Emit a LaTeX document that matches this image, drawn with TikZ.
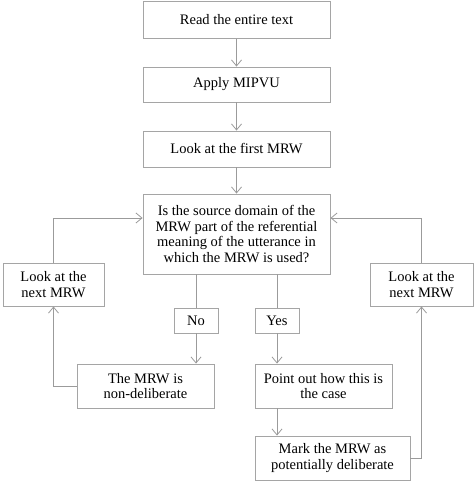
\documentclass[tikz,border=0pt]{standalone}
\usepackage{fontspec}
\setmainfont{Liberation Serif}
\usetikzlibrary{arrows.meta}
\definecolor{boxgray}{RGB}{165,165,165}
\definecolor{linegray}{RGB}{155,155,155}
\begin{document}
\begin{tikzpicture}[x=1pt,y=-1pt,
  box/.style={draw=boxgray,line width=0.9pt,rectangle,inner sep=0pt,align=center,
    font=\fontsize{14.5}{15.6}\selectfont},
  conn/.style={draw=linegray,line width=0.9pt},
  arr/.style={conn,-{Straight Barb[length=6pt,width=10pt,line width=0.8pt]}}]
\useasboundingbox (0,0) rectangle (474,481);
\node[box,minimum width=187pt,minimum height=37pt] (read) at (236.5,20) {Read the entire text};
\node[box,minimum width=187pt,minimum height=35pt] (mip) at (236.5,84.5) {Apply MIPVU};
\node[box,minimum width=187pt,minimum height=36pt] (first) at (236.5,149) {Look at the first MRW};
\node[box,minimum width=187pt,minimum height=80pt] (q) at (236.5,234)
  {Is the source domain of the\\MRW part of the referential\\meaning of the utterance in\\which the MRW is used?};
\node[box,minimum width=101pt,minimum height=43pt] (lnext) at (53.5,284.5) {Look at the\\next MRW};
\node[box,minimum width=103pt,minimum height=43pt] (rnext) at (421.5,284.5) {Look at the\\next MRW};
\node[box,minimum width=44pt,minimum height=25pt] (no) at (196,320.5) {No};
\node[box,minimum width=44pt,minimum height=25pt] (yes) at (277,320.5) {Yes};
\node[box,minimum width=137pt,minimum height=44pt] (nd) at (145.5,386) {The MRW is\\non-deliberate};
\node[box,minimum width=137pt,minimum height=44pt] (point) at (323.5,386) {Point out how this is\\the case};
\node[box,minimum width=155pt,minimum height=44pt] (mark) at (332.5,458) {Mark the MRW as\\potentially deliberate};
\draw[arr] (read) -- (mip);
\draw[arr] (mip) -- (first);
\draw[arr] (first) -- (q);
\draw[conn] (q.south -| no.north) -- (no.north);
\draw[conn] (q.south -| yes.north) -- (yes.north);
\draw[arr] (no.south) -- (nd.north -| no.south);
\draw[arr] (yes.south) -- (point.north -| yes.south);
\draw[arr] (point.south -| yes.south) -- (mark.north -| yes.south);
\draw[arr] (nd.west) -| (lnext.south);
\draw[arr] (lnext.north) |- ([yshift=16pt]q.west);
\draw[arr] (mark.east) -| (rnext.south);
\draw[arr] (rnext.north) |- ([yshift=16pt]q.east);
\end{tikzpicture}
\end{document}
